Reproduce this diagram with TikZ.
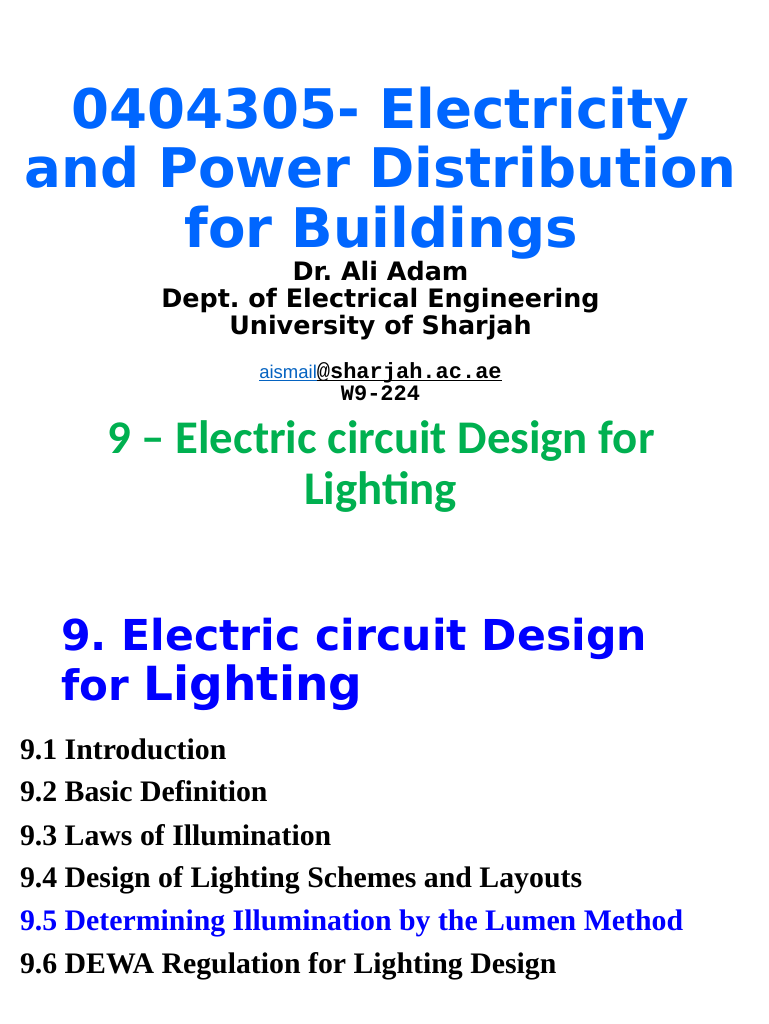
\documentclass[tikz,border=0pt]{standalone}
\usepackage{fontspec}
\setmainfont{DejaVu Sans}
\newfontfamily\carl{Carlito}[Ligatures=Common]
\newfontfamily\lmono{Liberation Mono}
\newfontfamily\lsans{Liberation Sans}
\newfontfamily\lserif{Liberation Serif}
\definecolor{titleblue}{RGB}{0,102,255}
\definecolor{dkgreen}{RGB}{0,176,80}
\definecolor{linkblue}{RGB}{5,99,193}
\definecolor{headblue}{RGB}{0,0,255}
\newsavebox{\ulbox}
\newcommand{\lowul}[1]{\sbox{\ulbox}{#1}\rlap{\rule[-3pt]{\wd\ulbox}{1pt}}\usebox{\ulbox}}
\tikzset{
 px/.style={x=1pt,y=-1pt},
 lab/.style={inner sep=0pt,outer sep=0pt,anchor=base},
 ttl/.style={lab,text=titleblue,font=\frenchspacing\fontsize{54.6}{54.6}\selectfont\bfseries},
 sub/.style={lab,font=\frenchspacing\fontsize{25.4}{25.4}\selectfont\bfseries},
 grn/.style={lab,text=dkgreen,font=\carl\fontsize{46.8}{46.8}\selectfont\bfseries},
 hd/.style={lab,anchor=base west,text=headblue,font=\frenchspacing\fontsize{42.6}{42.6}\selectfont\bfseries},
 itm/.style={lab,anchor=base west,font=\lserif\fontsize{29.8}{29.8}\selectfont\bfseries}
}
\begin{document}
\begin{tikzpicture}[px]
\useasboundingbox[fill=white] (0,0) rectangle (768,1024);
\node[ttl] (t1) at (380.5,129) {0404305- Electricity};
\node[ttl] (t2) at (380.5,188) {and Power Distribution};
\node[ttl] (t3) at (381,247.5) {for Buildings};
\node[sub] (s1) at (380.5,280) {Dr. Ali Adam};
\node[sub] (s2) at (380.5,307) {Dept. of Electrical Engineering};
\node[sub] (s3) at (380.5,334) {University of Sharjah};
\node[lab] (m) at (380.5,378) {\lsans\fontsize{18.5}{18.5}\selectfont\textcolor{linkblue}{\lowul{aismail}}{\lmono\fontsize{22}{22}\selectfont\lowul{@{\bfseries sharjah.ac.ae}}}};
\node[lab,font=\lmono\bfseries\fontsize{22}{22}\selectfont] (w) at (380.5,400) {W9-224};
\node[grn] (g1) at (381,453.5) {9 – Electric circuit Design for};
\node[grn] (g2) at (380.5,504.5) {Lighting};
\node[hd] (h1) at (61,650) {9. Electric circuit Design};
\node[hd] (h2) at (61,700) {\fontsize{42}{42}\selectfont for \fontsize{47}{47}\selectfont Lighting};
\node[itm] (i1) at (20,759) {9.1 Introduction};
\node[itm] (i2) at (20,801) {9.2 Basic Definition};
\node[itm] (i3) at (20,845) {9.3 Laws of Illumination};
\node[itm] (i4) at (20,887) {9.4 Design of Lighting Schemes and Layouts};
\node[itm,text=headblue] (i5) at (20,930) {9.5 Determining Illumination by the Lumen Method};
\node[itm] (i6) at (20,973) {9.6 DEWA Regulation for Lighting Design};
\end{tikzpicture}
\end{document}
